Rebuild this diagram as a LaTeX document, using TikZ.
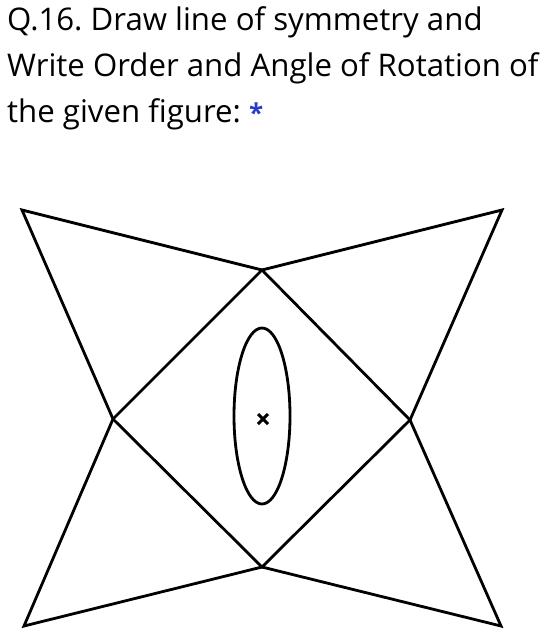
\documentclass[tikz,border=0pt]{standalone}
\usepackage{fontspec}
\usepackage{xcolor}
\setmainfont{Open Sans}
\definecolor{starblue}{RGB}{40,60,200}
\tikzset{
    qtext/.style={anchor=base west, inner sep=0pt, font=\fontsize{31.2}{36}\selectfont},
    figline/.style={line width=2.8pt, line join=miter},
}

\begin{document}
\frenchspacing
\begin{tikzpicture}[x=1pt, y=-1pt]
    \useasboundingbox (0, 0) rectangle (544, 634);
    \path (7, 31) node [qtext] (qa) {Q.16. Draw line of symmetry and};
    \path (7, 77) node [qtext] (qb) {Write Order and Angle of Rotation of};
    \path (7, 122) node [qtext] (qc) {the given figure: \textcolor{starblue}{\fontsize{26}{30}\selectfont\bfseries *}};
    \path (22, 210) coordinate (tl) (502, 210) coordinate (tr);
    \path (24, 626) coordinate (bl) (501, 626) coordinate (br);
    \path (262, 270) coordinate (top) (113, 419) coordinate (lft);
    \path (410, 420) coordinate (rgt) (262, 567) coordinate (bot);
    \path (262, 416) coordinate (mid) (263, 419) coordinate (cross);
    \draw [figline] (tl) -- (top) -- (tr) -- (rgt) -- (br) -- (bot) -- (bl) -- (lft) -- cycle;
    \draw [figline] (top) -- (lft) -- (bot) -- (rgt) -- cycle;
    \draw [line width=2.8pt] (mid) ellipse [x radius=28, y radius=88];
    \draw [line width=3pt] ([shift={(-5,-5)}]cross) -- ([shift={(5,5)}]cross)
        ([shift={(-5,5)}]cross) -- ([shift={(5,-5)}]cross);
\end{tikzpicture}
\end{document}
